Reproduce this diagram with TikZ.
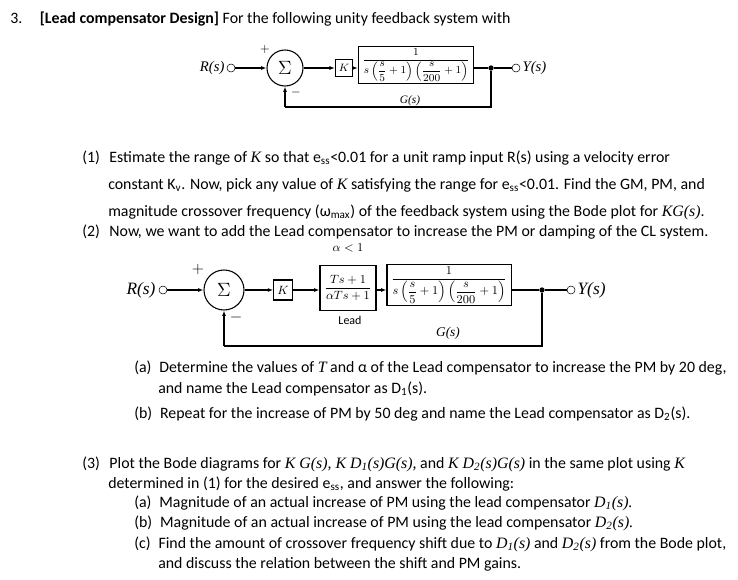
\documentclass[tikz,border=0pt]{standalone}
\usepackage{amsmath}
\usepackage{fontspec}
\setmainfont{Carlito}
\newfontfamily\tnr{Liberation Serif}
\usetikzlibrary{arrows.meta}
\newcommand{\mi}[1]{{\tnr\itshape #1}}
\newcommand{\ess}{e\textsubscript{ss}}
\begin{document}
\begin{tikzpicture}[x=0.75pt,y=-0.75pt,
  txt/.style={anchor=base west,inner sep=0pt,font=\fontsize{11.9}{13}\selectfont},
  blk/.style={draw,thick,inner sep=2pt,font=\fontsize{8}{9}\selectfont},
  sumc/.style={draw,thick,circle,minimum size=#1,inner sep=0pt},
  oc/.style={draw,circle,minimum size=6pt,inner sep=0pt,fill=white},
  dot/.style={circle,fill,minimum size=4pt,inner sep=0pt},
  sig/.style={->,>={Latex[length=4pt]},thick},
  lab/.style={inner sep=1pt,font=\fontsize{9}{10}\selectfont}]
\useasboundingbox (0,0) rectangle (738,579);
% title
\node[txt] (t0) at (10,23) {3.\hspace{1.1em}\textbf{[Lead compensator Design]} For the following unity feedback system with};
% diagram 1
\node[lab,anchor=east,font=\tnr\itshape\fontsize{11}{12}\selectfont] (r1) at (226,68) {R(s)};
\node[oc] (o1) at (231,68) {};
\node[sumc=27pt,font=\Large] (s1) at (285,68) {$\Sigma$};
\node[blk,minimum width=13pt,minimum height=13pt] (k1) at (344,68) {$K$};
\node[blk,minimum width=70pt,inner xsep=3pt,inner ysep=1.5pt] (g1) at (416,65) {$\displaystyle\frac{1}{s\left(\dfrac{s}{5}+1\right)\left(\dfrac{s}{200}+1\right)}$};
\node[lab,font=\tnr\itshape\fontsize{8.5}{9}\selectfont] (gl1) at (410,101) {G(s)};
\node[dot] (b1) at (491,68) {};
\node[oc] (y1) at (516,68) {};
\node[lab,anchor=west,font=\tnr\itshape\fontsize{11}{12}\selectfont] (yl1) at (521,68) {Y(s)};
\coordinate (f1a) at (491,107);
\coordinate (f1b) at (285,107);
\draw[sig] (o1) -- (s1);
\draw[sig] (s1) -- (k1);
\draw[sig] (k1) -- (g1.west |- k1);
\draw[thick] (g1.east |- b1) -- (b1);
\draw[thick] (b1) -- (y1);
\draw[thick] (b1) -- (f1a) -- (f1b);
\draw[sig] (f1b) -- (s1);
\node[lab] at (265,49) {$+$};
\node[lab] at (296,92) {$-$};
% part 1
\node[txt] at (82,162) {(1)\hspace{0.6em}Estimate the range of \mi{K} so that \ess{}<0.01 for a unit ramp input R(s) using a velocity error};
\node[txt] at (108,189) {constant K\textsubscript{v}. Now, pick any value of \mi{K} satisfying the range for \ess{}<0.01. Find the GM, PM, and};
\node[txt] at (108,216) {magnitude crossover frequency (ω\textsubscript{max}) of the feedback system using the Bode plot for \mi{KG(s)}.};
\node[txt] at (82,236) {(2)\hspace{0.6em}Now, we want to add the Lead compensator to increase the PM or damping of the CL system.};
% diagram 2
\node[lab,anchor=east,font=\tnr\itshape\fontsize{13}{14}\selectfont] (r2) at (157,290) {R(s)};
\node[oc] (o2) at (163,290) {};
\node[sumc=30pt,font=\Large] (s2) at (224,290) {$\Sigma$};
\node[blk,minimum width=14pt,minimum height=15pt,font=\fontsize{9}{10}\selectfont] (k2) at (283,290) {$K$};
\node[blk,minimum width=42pt,minimum height=34pt,font=\fontsize{9}{10}\selectfont] (l2) at (348,288) {$\dfrac{Ts+1}{\alpha Ts+1}$};
\node[blk,minimum width=84pt,inner xsep=3pt,inner ysep=2pt,font=\fontsize{9}{10}\selectfont] (g2) at (449,285) {$\displaystyle\frac{1}{s\left(\dfrac{s}{5}+1\right)\left(\dfrac{s}{200}+1\right)}$};
\node[lab,font=\fontsize{9}{10}\selectfont] (al) at (348,248) {$\alpha<1$};
\node[lab,font=\fontsize{9}{10}\selectfont] (ll) at (350,320) {Lead};
\node[lab,font=\tnr\itshape\fontsize{10}{11}\selectfont] (gl2) at (448,333) {G(s)};
\node[dot] (b2) at (542,290) {};
\node[oc] (y2) at (571,290) {};
\node[lab,anchor=west,font=\tnr\itshape\fontsize{13}{14}\selectfont] (yl2) at (576,290) {Y(s)};
\coordinate (f2a) at (542,346);
\coordinate (f2b) at (224,346);
\draw[sig] (o2) -- (s2);
\draw[sig] (s2) -- (k2);
\draw[sig] (k2) -- (l2.west |- k2);
\draw[sig] (l2.east |- k2) -- (g2.west |- k2);
\draw[thick] (g2.east |- b2) -- (b2);
\draw[thick] (b2) -- (y2);
\draw[thick] (b2) -- (f2a) -- (f2b);
\draw[sig] (f2b) -- (s2);
\node[lab,font=\large] at (198,269) {$+$};
\node[lab,font=\large] at (236,317) {$-$};
% part 2 items
\node[txt] at (134,372) {(a)\hspace{0.5em}Determine the values of \mi{T} and α of the Lead compensator to increase the PM by 20 deg,};
\node[txt] at (158,393) {and name the Lead compensator as D\textsubscript{1}(s).};
\node[txt] at (134,418) {(b)\hspace{0.5em}Repeat for the increase of PM by 50 deg and name the Lead compensator as D\textsubscript{2}(s).};
% part 3
\node[txt] at (82,468) {(3)\hspace{0.6em}Plot the Bode diagrams for \mi{K G(s), K D\textsubscript{1}(s)G(s),} and \mi{K D\textsubscript{2}(s)G(s)} in the same plot using \mi{K}};
\node[txt] at (108,488) {determined in (1) for the desired \ess, and answer the following:};
\node[txt] at (134,507) {(a)\hspace{0.5em}Magnitude of an actual increase of PM using the lead compensator \mi{D\textsubscript{1}(s).}};
\node[txt] at (134,527) {(b)\hspace{0.5em}Magnitude of an actual increase of PM using the lead compensator \mi{D\textsubscript{2}(s).}};
\node[txt] at (134,548) {(c)\hspace{0.5em}Find the amount of crossover frequency shift due to \mi{D\textsubscript{1}(s)} and \mi{D\textsubscript{2}(s)} from the Bode plot,};
\node[txt] at (158,568) {and discuss the relation between the shift and PM gains.};
\end{tikzpicture}
\end{document}
